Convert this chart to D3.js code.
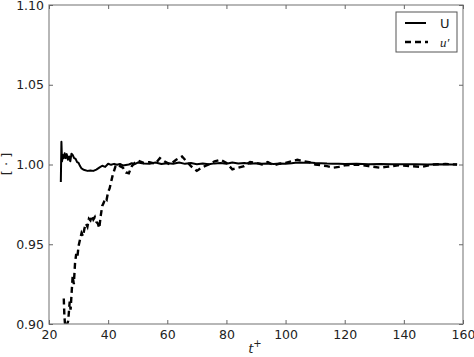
<!DOCTYPE html>
<html><head><meta charset="utf-8">
<script src="https://cdn.jsdelivr.net/npm/d3@7"></script>
<style>body{margin:0;background:#fff}svg{display:block}text{font-family:"DejaVu Sans",sans-serif}</style>
</head><body><svg id="c" width="474" height="357"></svg>
<script>
const xTicks=[20,40,60,80,100,120,140,160];
const yTicks=[0.90,0.95,1.00,1.05,1.10];
const seriesNames=["U","u\u2032"];
const tU=[24.0,24.2,24.4,24.7,25.0,25.3,25.6,26.0,26.4,26.8,27.2,27.6,28.0,28.5,29.0,29.5,30.0,30.5,31,31.5,32,33,34,35,36,37,38,39,40,41,42,43,44,45,46,47,48,49,50,52,54,56,58,60,62,64,66,68,70,72,74,76,78,80,82,84,86,88,90,92,94,96,98,100,102,104,106,108,110,112,114,116,118,120,124,128,132,136,140,144,148,152,156,158];
const vU=[0.989,1.0143,1.002,1.006,1.004,1.007,1.004,1.0065,1.003,1.005,1.002,1.0068,1.006,1.004,1.0035,1.0015,1.001,0.999,0.9975,0.997,0.9965,0.996,0.9962,0.996,0.9968,0.998,0.9992,0.9985,1.0005,0.9998,1.0004,0.9998,1.0003,0.9994,0.9997,1.0,1.0008,1.0002,1.0012,1.0006,1.0005,1.0012,1.0003,1.0008,1.0005,1.0012,1.0004,1.0009,1.0002,1.0006,1.0001,1.0007,1.0009,1.0005,1.0012,1.0006,1.001,1.0005,1.0008,1.0004,1.0006,1.0003,1.0007,1.0005,1.0008,1.0012,1.0011,1.0013,1.001,1.0008,1.0006,1.0005,1.0004,1.0003,1.0004,1.0002,1.0003,1.0002,1.0001,1.0001,1.0,1.0001,1.0,1.0];
const tUp=[25.0,25.2,25.5,26.0,26.5,27.0,27.3,27.7,28.0,28.4,28.8,29.2,29.6,30.0,30.5,31.0,31.5,32.0,32.5,33.0,33.5,34.0,34.5,35.0,35.5,36.0,36.5,37.0,37.5,38.0,38.5,39.0,39.5,40.0,40.5,41.0,41.5,42.0,42.5,43.0,44,45,46,47,48,49,50,52,54,56,57.5,59,61,63,65,66,68,70,72,74,76,78,80,82,84,86,88,90,92,94,96,98,100,102,104,106,108,110,112,114,116,118,120,124,128,132,134,138,142,146,150,154,158];
const vUp=[0.916,0.905,0.898,0.899,0.902,0.914,0.909,0.921,0.930,0.925,0.938,0.944,0.942,0.949,0.953,0.957,0.955,0.960,0.963,0.961,0.966,0.965,0.968,0.9655,0.967,0.964,0.963,0.960,0.968,0.974,0.976,0.979,0.978,0.983,0.985,0.989,0.993,0.996,0.999,1.0,0.999,0.998,0.995,0.9945,0.999,1.001,1.0025,1.001,1.0015,1.0005,1.004,1.002,1.0,1.003,1.005,1.003,0.999,0.996,0.9985,1.0,1.002,1.003,1.001,0.997,0.998,0.999,1.0015,1.001,1.0,1.0015,0.9995,1.0005,1.001,1.002,1.003,1.002,1.0015,1.0,0.9995,0.999,0.998,0.9985,0.9995,1.0,0.999,0.998,0.9985,0.9995,0.999,0.9985,1.0,1.0003,1.0];

const L=49,R=463,T=5,B=324;
const svg=d3.select("#c");
const x=d3.scaleLinear().domain([20,160]).range([L,R]);
const y=d3.scaleLinear().domain([0.90,1.10]).range([B,T]);

svg.append("clipPath").attr("id","clip").append("rect").attr("x",L).attr("y",T).attr("width",R-L).attr("height",B-T);

const line=d3.line().x(d=>x(d[0])).y(d=>y(d[1]));
const g=svg.append("g").attr("clip-path","url(#clip)");
g.append("path").datum(tU.map((t,i)=>[t,vU[i]])).attr("d",line).attr("fill","none").attr("stroke","#000").attr("stroke-width",2).attr("stroke-linejoin","round");
g.append("path").datum(tUp.map((t,i)=>[t,vUp[i]])).attr("d",line).attr("fill","none").attr("stroke","#000").attr("stroke-width",2.4).attr("stroke-dasharray","6,4");

// frame
svg.append("rect").attr("x",L).attr("y",T).attr("width",R-L).attr("height",B-T).attr("fill","none").attr("stroke","#888").attr("stroke-width",1.2);

// axes with inward ticks
const fmtY=d3.format(".2f");
const ax=svg.append("g").attr("transform",`translate(0,${B})`).call(d3.axisBottom(x).tickValues(xTicks).tickSizeInner(-4).tickSizeOuter(0).tickPadding(6));
const axT=svg.append("g").attr("transform",`translate(0,${T})`).call(d3.axisTop(x).tickValues(xTicks).tickSizeInner(-4).tickSizeOuter(0).tickFormat(""));
const ay=svg.append("g").attr("transform",`translate(${L},0)`).call(d3.axisLeft(y).tickValues(yTicks).tickFormat(fmtY).tickSizeInner(-4).tickSizeOuter(0).tickPadding(5));
const ayR=svg.append("g").attr("transform",`translate(${R},0)`).call(d3.axisRight(y).tickValues(yTicks).tickSizeInner(-4).tickSizeOuter(0).tickFormat(""));
[ax,axT,ay,ayR].forEach(a=>{a.select(".domain").remove();a.selectAll("line").attr("stroke","#666");a.selectAll("text").attr("fill","#222").style("font-size","12.5px").style("font-family","DejaVu Sans");});

// axis labels
svg.append("text").attr("x",255).attr("y",353).attr("text-anchor","middle").style("font-size","13px").attr("fill","#222")
  .html('<tspan font-style="italic">t</tspan><tspan dy="-6" font-size="10px">+</tspan>');
svg.append("text").attr("transform","translate(11,164) rotate(-90)").attr("text-anchor","middle").style("font-size","13px").attr("fill","#222").text("[ \u00b7 ]");

// legend
const lg=svg.append("g");
lg.append("rect").attr("x",396).attr("y",12).attr("width",61).attr("height",40).attr("fill","#fff").attr("stroke","#555").attr("stroke-width",1);
lg.append("line").attr("x1",405).attr("x2",426).attr("y1",23).attr("y2",23).attr("stroke","#000").attr("stroke-width",2);
lg.append("line").attr("x1",405).attr("x2",428).attr("y1",42).attr("y2",42).attr("stroke","#000").attr("stroke-width",2.4).attr("stroke-dasharray","6,4");
lg.append("text").attr("x",440).attr("y",28).style("font-size","13px").attr("fill","#222").text(seriesNames[0]);
lg.append("text").attr("x",440).attr("y",47).style("font-size","13px").style("font-family","Liberation Serif").style("font-style","italic").attr("fill","#222").text(seriesNames[1]);
</script></body></html>
